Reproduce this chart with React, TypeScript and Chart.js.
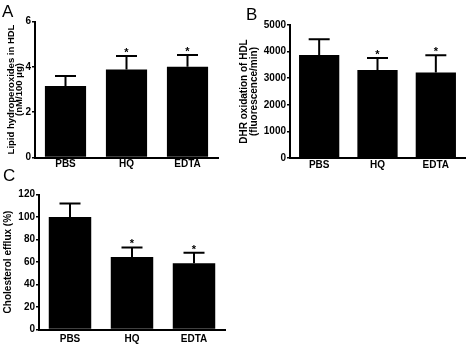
import React, { useEffect, useRef } from 'react';
import { Chart, registerables } from 'chart.js';

Chart.register(...registerables);

const FONT = '"Liberation Sans", Arial, Helvetica, sans-serif';

// ---- data ----
const categories = ['PBS', 'HQ', 'EDTA'];
const significant = [false, true, true];

const lipidValues = [3.15, 3.88, 4.0];
const lipidErrors = [0.45, 0.6, 0.52];
const lipidTitle = ['Lipid hydroperoxides in HDL', '(nM/100 μg)'];

const dhrValues = [3870, 3310, 3210];
const dhrErrors = [590, 450, 650];
const dhrTitle = ['DHR oxidation of HDL', '(fluorescence/min)'];

const effluxValues = [100, 64.5, 59];
const effluxErrors = [12, 8.4, 9.2];
const effluxTitle = 'Cholesterol efflux (%)';

type Panel = {
  letter: string;
  pageLeft: number;
  pageTop: number;
  w: number;
  h: number;
  area: { left: number; right: number; top: number; bottom: number };
  values: number[];
  errors: number[];
  yMax: number;
  yStep: number;
  title: string | string[];
  titleSize: number;
  titlePad: number;
  titleLine: number;
  xPad: number;
  barPct: number;
  letterX: number;
  letterY: number;
};

const panels: Panel[] = [
  {
    letter: 'A', pageLeft: 0, pageTop: 0, w: 237, h: 175,
    area: { left: 35, right: 218, top: 21.5, bottom: 157.5 },
    values: lipidValues, errors: lipidErrors, yMax: 6, yStep: 2,
    title: lipidTitle, titleSize: 9.5, titlePad: 6.5, titleLine: 8.8, xPad: 1, barPct: 0.675,
    letterX: 2, letterY: 17,
  },
  {
    letter: 'B', pageLeft: 237, pageTop: 0, w: 237, h: 175,
    area: { left: 53, right: 228, top: 25, bottom: 158 },
    values: dhrValues, errors: dhrErrors, yMax: 5000, yStep: 1000,
    title: dhrTitle, titleSize: 10, titlePad: 1.5, titleLine: 10.5, xPad: 1, barPct: 0.69,
    letterX: 9, letterY: 20,
  },
  {
    letter: 'C', pageLeft: 0, pageTop: 165, w: 237, h: 180,
    area: { left: 39, right: 225, top: 29.5, bottom: 164.5 },
    values: effluxValues, errors: effluxErrors, yMax: 120, yStep: 20,
    title: effluxTitle, titleSize: 10, titlePad: 3.5, titleLine: 10, xPad: 4, barPct: 0.685,
    letterX: 3, letterY: 16,
  },
];

function makeOverlay(p: Panel) {
  return {
    id: 'overlay' + p.letter,
    afterDatasetsDraw(chart: any) {
      const { ctx } = chart;
      const meta = chart.getDatasetMeta(0);
      const y = chart.scales.y;
      ctx.save();
      ctx.strokeStyle = '#000';
      ctx.fillStyle = '#000';
      ctx.lineWidth = 2;
      meta.data.forEach((bar: any, i: number) => {
        const v = p.values[i];
        const top = y.getPixelForValue(v);
        const cap = y.getPixelForValue(v + p.errors[i]);
        const capW = 21;
        ctx.beginPath();
        ctx.moveTo(bar.x, top);
        ctx.lineTo(bar.x, cap);
        ctx.moveTo(bar.x - capW / 2, cap);
        ctx.lineTo(bar.x + capW / 2, cap);
        ctx.stroke();
        if (significant[i]) {
          ctx.font = 'bold 11px ' + FONT;
          ctx.textAlign = 'center';
          ctx.textBaseline = 'alphabetic';
          ctx.fillText('*', bar.x, cap);
        }
      });
      ctx.font = '17px ' + FONT;
      ctx.textAlign = 'left';
      ctx.textBaseline = 'alphabetic';
      ctx.fillText(p.letter, p.letterX, p.letterY);
      ctx.restore();
    },
  };
}

function PanelChart({ p }: { p: Panel }) {
  const ref = useRef<HTMLCanvasElement | null>(null);
  useEffect(() => {
    if (!ref.current) return;
    const chart = new Chart(ref.current, {
      type: 'bar',
      data: {
        labels: categories,
        datasets: [
          {
            data: p.values,
            backgroundColor: '#000',
            borderWidth: 0,
            categoryPercentage: 1,
            barPercentage: p.barPct,
          },
        ],
      },
      options: {
        responsive: false,
        animation: false,
        events: [],
        layout: {
          padding: { left: 0, top: p.area.top, right: p.w - p.area.right, bottom: 0 },
        },
        plugins: { legend: { display: false }, tooltip: { enabled: false } },
        scales: {
          x: {
            type: 'category',
            offset: true,
            grid: { display: false, drawTicks: false },
            border: { display: true, color: '#000', width: 2 },
            ticks: { color: '#000', padding: p.xPad, font: { family: FONT, size: 10, weight: 'bold' } },
            afterFit: (s: any) => { s.height = p.h - p.area.bottom; },
          },
          y: {
            min: 0,
            max: p.yMax,
            ticks: {
              stepSize: p.yStep,
              color: '#000',
              padding: 1,
              font: { family: FONT, size: 10, weight: 'bold' },
              callback: (v: any) => String(v),
            },
            grid: { display: true, drawOnChartArea: false, drawTicks: true, tickLength: 3, color: '#000', lineWidth: 1.5 },
            border: { display: true, color: '#000', width: 2 },
            title: {
              display: true,
              text: p.title,
              color: '#000',
              padding: { top: p.titlePad, bottom: 0 },
              font: { family: FONT, size: p.titleSize, weight: 'bold', lineHeight: p.titleLine / p.titleSize },
            },
            afterFit: (s: any) => { s.width = p.area.left; },
          },
        },
      } as any,
      plugins: [makeOverlay(p)],
    });
    return () => chart.destroy();
  }, [p]);
  return (
    <canvas
      ref={ref}
      width={p.w}
      height={p.h}
      style={{ position: 'absolute', left: p.pageLeft, top: p.pageTop, width: p.w, height: p.h }}
    />
  );
}

export default function App() {
  return (
    <div style={{ position: 'fixed', left: 0, top: 0, width: 474, height: 345, background: '#fff', overflow: 'hidden' }}>
      {panels.map((p) => (
        <PanelChart key={p.letter} p={p} />
      ))}
    </div>
  );
}
